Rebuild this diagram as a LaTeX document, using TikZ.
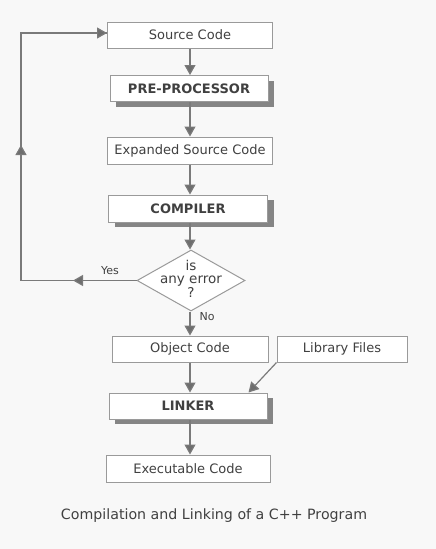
\documentclass[tikz,border=0pt]{standalone}
\usepackage{fontspec}
\setmainfont{DejaVu Sans}
\usetikzlibrary{shapes.geometric,arrows.meta,shadows}
\definecolor{bgc}{HTML}{F8F8F8}
\definecolor{boxline}{HTML}{9A9A9A}
\definecolor{arrc}{HTML}{6E6E6E}
\definecolor{linec}{HTML}{7A7A7A}
\definecolor{shad}{HTML}{858585}
\definecolor{txt}{HTML}{404040}
\begin{document}
\begin{tikzpicture}[x=1pt,y=-1pt,
  box/.style={draw=boxline, line width=1pt, fill=white, rectangle, minimum height=26pt, inner sep=0pt, text=txt, font=\fontsize{13}{15}\selectfont},
  bbox/.style={box, font=\fontsize{13}{15}\selectfont\bfseries, general shadow={fill=shad, shadow xshift=6pt, shadow yshift=-5pt}},
  dia/.style={draw=boxline, line width=1pt, fill=white, diamond, minimum width=108pt, minimum height=61pt, inner sep=0pt},
  lbl/.style={text=txt, font=\fontsize{11}{12}\selectfont},
  line/.style={draw=linec, line width=1.2pt},
  arr/.style={line, -{Triangle[length=10pt,width=11pt,fill=arrc]}, draw=linec}
]
\useasboundingbox (0,0) rectangle (436,549);
\fill[bgc] (0,0) rectangle (436,549);

\node[box, minimum width=165pt] (src) at (190,35) {Source Code};
\node[bbox, minimum width=158pt] (pre) at (189,88.5) {PRE-PROCESSOR};
\node[box, minimum width=165pt, minimum height=27pt] (exp) at (190,150.5) {Expanded Source Code};
\node[bbox, minimum width=159pt, minimum height=27pt] (cmp) at (188,208.5) {COMPILER};
\node[dia] (err) at (191,280.5) {};
\node[text=txt, align=center, font=\fontsize{13.5}{12.5}\selectfont] (errt) at (191,279) {is\\any error\\?};
\node[box, minimum width=156pt] (obj) at (190,349) {Object Code};
\node[box, minimum width=130pt] (lib) at (342,349) {\raisebox{2pt}{Library Files}};
\node[bbox, minimum width=158pt] (lnk) at (188,406) {LINKER};
\node[box, minimum width=164pt, minimum height=27pt] (exe) at (188,468.5) {Executable Code};
\node[text=txt, font=\fontsize{14.2}{16}\selectfont] (cap) at (214,516) {Compilation and Linking of a C++ Program};

\node[lbl] (yes) at (110,271) {Yes};
\node[lbl] (no) at (207,317) {No};

\coordinate (c1) at (21,280.5);
\coordinate (c2) at (21,33);
\coordinate (yestip) at (73,280.5);
\coordinate (uptip) at (21,145);

\draw[arr] (src.south -| 190,0) -- (pre.north -| 190,0);
\draw[arr] (pre.south -| 190,0) -- (exp.north -| 190,0);
\draw[arr] (exp.south -| 190,0) -- (cmp.north -| 190,0);
\draw[arr] (cmp.south -| 190,0) -- (err.north -| 190,0);
\draw[arr] (err.south -| 190,0) -- (obj.north -| 190,0);
\draw[arr] (obj.south -| 190,0) -- (lnk.north -| 190,0);
\draw[arr] (lnk.south -| 190,0) -- (exe.north -| 190,0);
\draw[arr] (lib.south west) -- ([xshift=-19pt]lnk.north east);

\draw[line] (err.west) -- (c1) -- (c2) -- (src.west |- c2);
\draw[arr] (err.west) -- (yestip);
\draw[arr] (c1) -- (uptip);
\draw[arr] (c2) -- (src.west |- c2);
\end{tikzpicture}
\end{document}
